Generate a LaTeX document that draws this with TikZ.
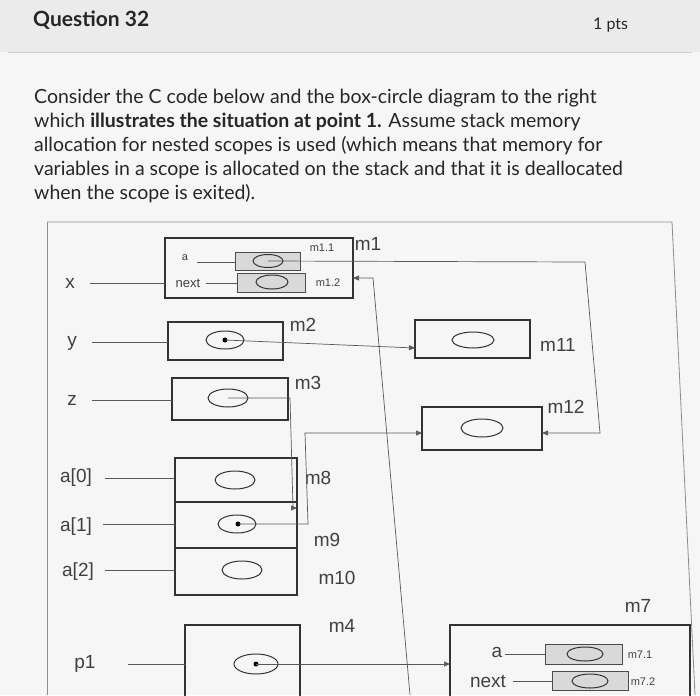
\documentclass[tikz,border=0pt]{standalone}
\usepackage{fontspec}
\setmainfont{Lato}
\newfontfamily\diag{Liberation Sans}
\usetikzlibrary{arrows.meta}
\begin{document}
\begin{tikzpicture}[x=1pt,y=-1pt,
  box/.style={draw=black!80,line width=1.1pt},
  sub/.style={draw=black!70,fill=black!15,line width=0.8pt},
  ell/.style={draw=black!80,line width=1pt},
  wire/.style={draw=black!65,line width=0.7pt},
  arr/.style={wire,-{Triangle[length=6pt,width=5pt]}},
  lab/.style={font=\diag\fontsize{19}{19}\selectfont,text=black!75,inner sep=0pt},
  slab/.style={font=\diag\fontsize{13}{13}\selectfont,text=black!75,inner sep=0pt},
  tlab/.style={font=\diag\fontsize{11}{11}\selectfont,text=black!75,inner sep=0pt},
  body/.style={font=\fontsize{19.5}{19.5}\selectfont,text=black!85,anchor=west,inner sep=0pt}]
\useasboundingbox (0,0) rectangle (700,695);
\fill[white!93!gray] (0,0) rectangle (700,695);
\fill[black!8] (0,0) rectangle (700,52);
\draw[black!20] (8,52) -- (692,52);
\node[body,font=\bfseries\fontsize{21}{21}\selectfont] (q) at (33,20) {Question 32};
\node[body,font=\fontsize{16}{16}\selectfont] (pts) at (593,25) {1 pts};
\node[body] (t1) at (34,98) {Consider the C code below and the box-circle diagram to the right};
\node[body] (t2) at (34,122) {which \textbf{illustrates the situation at point 1.} Assume stack memory};
\node[body] (t3) at (34,146) {allocation for nested scopes is used (which means that memory for};
\node[body] (t4) at (34,170) {variables in a scope is allocated on the stack and that it is deallocated};
\node[body] (t5) at (34,194) {when the scope is exited).};
% frame
\draw[black!45,line width=0.8pt] (47,222) -- (672,222) -- (695,695);
\draw[black!45,line width=0.8pt] (47,222) -- (47,695);
% m1
\draw[box] (165,238) rectangle (353,298);
\node[tlab] (la) at (185,258) {a};
\node[slab] (lnext) at (188,283) {next};
\draw[sub] (235,252) rectangle (300,270);
\draw[ell] (268,261) ellipse (15 and 6.5);
\draw[sub] (237,273) rectangle (305,292);
\draw[ell] (272,282) ellipse (16 and 7);
\draw[wire] (197,262) -- (235,262);
\draw[wire] (206,283) -- (237,283);
\node[tlab] (m11l) at (322,248) {m1.1};
\node[tlab] (m12l) at (328,283) {m1.2};
\node[lab] (m1l) at (368,244) {m1};
\node[lab] (x) at (70,283) {x};
\draw[wire] (90,283) -- (165,283);
% m2
\draw[box] (168,322) rectangle (283,360);
\draw[ell] (225,340) ellipse (19 and 9);
\fill (225,340) circle (2.5);
\node[lab] (m2l) at (303,325) {m2};
\node[lab] (y) at (72,343) {y};
\draw[wire] (92,342) -- (168,342);
% m11
\draw[box] (415,320) rectangle (530,358);
\draw[ell] (473,340) ellipse (21 and 8);
\node[lab] (m11) at (558,345) {m11};
% m3
\draw[box] (172,378) rectangle (288,420);
\draw[ell] (228,398) ellipse (20 and 9);
\node[lab] (m3l) at (308,383) {m3};
\node[lab] (z) at (72,400) {z};
\draw[wire] (92,400) -- (172,400);
% m12
\draw[box] (422,407) rectangle (542,450);
\draw[ell] (482,428) ellipse (21 and 9);
\node[lab] (m12) at (566,407) {m12};
% array
\draw[box] (175,458) rectangle (297,595);
\draw[box] (175,502) -- (297,502);
\draw[box] (175,548) -- (297,548);
\draw[ell] (235,480) ellipse (20 and 9);
\draw[ell] (237,524) ellipse (19 and 9);
\fill (238,524) circle (2.5);
\draw[ell] (242,570) ellipse (20 and 9);
\node[lab] (a0) at (76,478) {a[0]};
\node[lab] (a1) at (76,527) {a[1]};
\node[lab] (a2) at (78,572) {a[2]};
\draw[wire] (105,478) -- (175,478);
\draw[wire] (103,524) -- (175,524);
\draw[wire] (105,570) -- (175,570);
\node[lab] (m8) at (318,478) {m8};
\node[lab] (m9) at (327,540) {m9};
\node[lab] (m10) at (337,578) {m10};
% m4
\draw[box] (185,625) rectangle (300,700);
\draw[ell] (256,664) ellipse (22 and 10);
\fill (256,664) circle (2.5);
\node[lab] (m4l) at (342,626) {m4};
\node[lab] (p1) at (85,664) {p1};
\draw[wire] (128,664) -- (185,664);
% m7
\draw[box] (450,625) rectangle (690,700);
\node[lab] (m7l) at (638,606) {m7};
\node[lab] (a7) at (497,652) {a};
\node[lab] (n7) at (488,681) {next};
\draw[sub] (545,644) rectangle (622,664);
\draw[ell] (585,654) ellipse (18 and 7);
\draw[sub] (552,671) rectangle (628,690);
\draw[ell] (590,681) ellipse (18 and 7);
\draw[wire] (505,654) -- (545,654);
\draw[wire] (513,681) -- (552,681);
\node[tlab] (m71) at (640,655) {m7.1};
\node[tlab] (m72) at (643,682) {m7.2};
% connectors
\draw[arr] (225,340) -- (415,348);
\draw[arr] (256,664) -- (450,664);
\draw[arr] (268,261) -- (585,262) -- (600,433) -- (542,433);
\draw[arr] (410,695) -- (373,278) -- (353,278);
\draw[arr] (228,398) -- (290,398) -- (293,508) -- (297,508);
\draw[arr] (238,524) -- (308,524) -- (305,433) -- (422,433);
\end{tikzpicture}
\end{document}
